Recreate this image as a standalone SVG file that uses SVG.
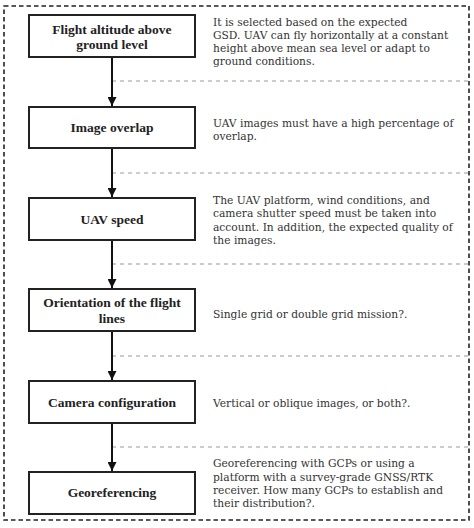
<svg xmlns="http://www.w3.org/2000/svg" width="474" height="528" viewBox="0 0 474 528">
<defs>
<style>
.box{fill:#fff;stroke:#222;stroke-width:2}
.lbl{font-family:"Liberation Serif",serif;font-weight:bold;font-size:13.5px;fill:#222;text-anchor:middle}
.txt{font-family:"DejaVu Serif",serif;font-size:10.7px;fill:#333}
.sep{stroke:#999;stroke-width:1;stroke-dasharray:4 4;fill:none}
.arr{stroke:#111;stroke-width:2;fill:none;marker-end:url(#ah)}
</style>
<marker id="ah" viewBox="0 0 10 10" refX="10" refY="5" markerWidth="4.5" markerHeight="4.5" orient="auto" markerUnits="strokeWidth">
<path d="M0,0 L10,5 L0,10 z" fill="#111"/>
</marker>
</defs>
<rect width="474" height="528" fill="#fff"/>
<rect x="4" y="6" width="465" height="514" fill="none" stroke="#222" stroke-width="1.6" stroke-dasharray="4.5 3"/>
<g id="separators">
<line class="sep" x1="112" y1="81" x2="468" y2="81"/>
<line class="sep" x1="112" y1="173" x2="468" y2="173"/>
<line class="sep" x1="112" y1="264" x2="468" y2="264"/>
<line class="sep" x1="112" y1="356" x2="468" y2="356"/>
<line class="sep" x1="112" y1="447" x2="468" y2="447"/>
</g>
<g id="connectors">
<line class="arr" x1="112" y1="57" x2="112" y2="106"/>
<line class="arr" x1="112" y1="148" x2="112" y2="197"/>
<line class="arr" x1="112" y1="240" x2="112" y2="288"/>
<line class="arr" x1="112" y1="331" x2="112" y2="380"/>
<line class="arr" x1="112" y1="423" x2="112" y2="471"/>
</g>
<g id="node1">
<rect class="box" x="29" y="15" width="166" height="42"/>
<text class="lbl" x="112" y="33.5">Flight altitude above</text>
<text class="lbl" x="112" y="49">ground level</text>
<text class="txt" x="213" y="25.7">It is selected based on the expected</text>
<text class="txt" x="213" y="38.5">GSD. UAV can fly horizontally at a constant</text>
<text class="txt" x="213" y="51.7">height above mean sea level or adapt to</text>
<text class="txt" x="213" y="65">ground conditions.</text>
</g>
<g id="node2">
<rect class="box" x="29" y="107" width="166" height="41"/>
<text class="lbl" x="112" y="132">Image overlap</text>
<text class="txt" x="213" y="126.7">UAV images must have a high percentage of</text>
<text class="txt" x="213" y="140">overlap.</text>
</g>
<g id="node3">
<rect class="box" x="29" y="198" width="166" height="42"/>
<text class="lbl" x="112" y="223.5">UAV speed</text>
<text class="txt" x="213" y="204">The UAV platform, wind conditions, and</text>
<text class="txt" x="213" y="217.3">camera shutter speed must be taken into</text>
<text class="txt" x="213" y="230.7">account. In addition, the expected quality of</text>
<text class="txt" x="213" y="244">the images.</text>
</g>
<g id="node4">
<rect class="box" x="29" y="289" width="166" height="42"/>
<text class="lbl" x="112" y="307">Orientation of the flight</text>
<text class="lbl" x="112" y="322.5">lines</text>
<text class="txt" x="213" y="317.7">Single grid or double grid mission?.</text>
</g>
<g id="node5">
<rect class="box" x="29" y="381" width="166" height="42"/>
<text class="lbl" x="112" y="406.5">Camera configuration</text>
<text class="txt" x="213" y="406.7">Vertical or oblique images, or both?.</text>
</g>
<g id="node6">
<rect class="box" x="29" y="472" width="166" height="42"/>
<text class="lbl" x="112" y="497">Georeferencing</text>
<text class="txt" x="213" y="467.3">Georeferencing with GCPs or using a</text>
<text class="txt" x="213" y="480.5">platform with a survey-grade GNSS/RTK</text>
<text class="txt" x="213" y="493.5">receiver. How many GCPs to establish and</text>
<text class="txt" x="213" y="506.7">their distribution?.</text>
</g>
</svg>
